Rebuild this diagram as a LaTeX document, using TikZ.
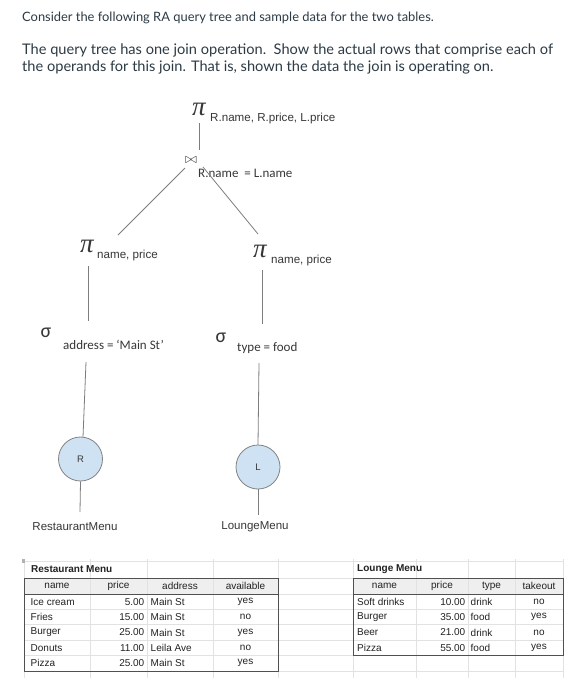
\documentclass[tikz,border=0pt]{standalone}
\usepackage{fontspec}
\setmainfont{Lato}
\newfontfamily\arialf{Liberation Sans}
\newfontfamily\calibf{Carlito}
\newfontfamily\serif{Liberation Serif}
\definecolor{txt}{RGB}{45,59,69}
\definecolor{treeline}{RGB}{125,125,125}
\definecolor{treetxt}{RGB}{55,55,55}
\definecolor{circfill}{RGB}{207,226,243}
\definecolor{circline}{RGB}{130,130,130}
\definecolor{gridc}{RGB}{226,226,226}
\definecolor{bordc}{RGB}{80,80,80}
\definecolor{hdrfill}{RGB}{239,239,239}
\definecolor{celltxt}{RGB}{34,34,34}
\begin{document}
\begin{tikzpicture}[x=1pt,y=-1pt,
  para/.style={anchor=base west,inner sep=0pt,text=txt,font=\fontsize{12.9}{15}\selectfont},
  parab/.style={anchor=base west,inner sep=0pt,text=txt,font=\fontsize{14.6}{17}\selectfont},
  tline/.style={draw=treeline,line width=0.8pt},
  pisym/.style={inner sep=0pt,text=treetxt,font=\serif\itshape\fontsize{27}{27}\selectfont},
  sigsym/.style={inner sep=0pt,text=treetxt,font=\calibf\fontsize{20}{20}\selectfont},
  subtxt/.style={anchor=west,inner sep=0pt,text=treetxt,font=\arialf\fontsize{11.6}{12}\selectfont},
  condtxt/.style={anchor=west,inner sep=0pt,text=treetxt,font=\calibf\fontsize{13}{14}\selectfont},
  relnode/.style={circle,minimum size=44pt,inner sep=0pt,fill=circfill,draw=circline,line width=0.8pt,text=treetxt,font=\arialf\fontsize{9.5}{10}\selectfont},
  reltxt/.style={inner sep=0pt,text=treetxt,font=\arialf\fontsize{11.5}{12}\selectfont},
  gridline/.style={draw=gridc,line width=0.8pt},
  bordline/.style={draw=bordc,line width=1pt},
  cell/.style={inner sep=0pt,text=celltxt,font=\arialf\fontsize{10}{11}\selectfont},
  cellL/.style={cell,anchor=west},
  cellR/.style={cell,anchor=east},
  cellC/.style={cell},
  ttl/.style={cell,anchor=west,font=\arialf\bfseries\fontsize{10}{11}\selectfont}
]
\useasboundingbox[fill=white] (0,0) rectangle (588,691);

% ---------- paragraph text ----------
\node[para] (p1) at (22,21.5) {Consider the following RA query tree and sample data for the two tables.};
\node[parab] (p2) at (22,54) {The query tree has one join operation.\ \ Show the actual rows that comprise each of};
\node[parab] (p3) at (22,71) {the operands for this join. That is, shown the data the join is operating on.};

% ---------- query tree ----------
\node[pisym] (pitop) at (199,109) {π};
\node[subtxt] (pitopsub) at (210,118) {R.name, R.price, L.price};
\coordinate (pitopb) at (199,123);
\coordinate (joint) at (199,150);
\draw[tline] (pitopb) -- (joint);

\node[inner sep=0pt,text=treetxt,font=\fontsize{14}{14}\selectfont] (join) at (191,160) {$\bowtie$};
\node[condtxt] (joincond) at (198,173) {R.name\ \ = L.name};

\coordinate (joinl) at (185,168);
\coordinate (pilt) at (118,235);
\draw[tline] (joinl) -- (pilt);
\coordinate (joinr) at (203,167);
\coordinate (pirt) at (258,234);
\draw[tline] (joinr) -- (pirt);

% left branch
\node[pisym] (pil) at (87,246) {π};
\node[subtxt] (pilsub) at (97,255) {name, price};
\coordinate (pilb) at (88,266);
\coordinate (siglt) at (88,321);
\draw[tline] (pilb) -- (siglt);
\node[sigsym] (sigl) at (46,333) {σ};
\node[condtxt] (siglcond) at (63,345) {address = ‘Main St’};
\coordinate (siglb) at (86,362);
\coordinate (rt) at (83,437);
\draw[tline] (siglb) -- (rt);
\node[relnode] (R) at (80.5,459) {R};
\coordinate (rb) at (80,512);
\draw[tline] (R.south) -- (rb);
\node[reltxt] (rname) at (75,527) {RestaurantMenu};

% right branch
\node[pisym] (pir) at (260,251) {π};
\node[subtxt] (pirsub) at (271,260) {name, price};
\coordinate (pirb) at (262,270);
\coordinate (sigrt) at (262,324);
\draw[tline] (pirb) -- (sigrt);
\node[sigsym] (sigr) at (221,338) {σ};
\node[condtxt] (sigrcond) at (237,348) {type = food};
\coordinate (sigrb) at (259,363);
\coordinate (lt) at (258,445);
\draw[tline] (sigrb) -- (lt);
\node[relnode] (L) at (258,467) {L};
\coordinate (lb) at (258,515);
\draw[tline] (L.south) -- (lb);
\node[reltxt] (lname) at (255,527) {LoungeMenu};

% ---------- spreadsheet grid ----------
\fill[hdrfill] (24,578) rectangle (278,594);
\fill[hdrfill] (353,578) rectangle (563,594);
\foreach \yy in {561,578,594,609.4,624.8,640.2,655.6,671}
  \draw[gridline] (24,\yy) -- (563,\yy);
\foreach \xx in {24,90,147,213,278,353,416,468,515,563}
  \draw[gridline] (\xx,559) -- (\xx,678);
\fill[gray!60] (22,559) rectangle (25,563);

% table borders
\draw[bordline] (24,578) rectangle (278,671);
\draw[bordline] (24,594) -- (278,594);
\draw[bordline] (353,578) rectangle (563,655.6);
\draw[bordline] (353,594) -- (563,594);

% ---------- Restaurant Menu table ----------
\node[ttl] (rtitle) at (31,569.5) {Restaurant Menu};
\node[cellC] (rh1) at (57,586) {name};
\node[cellC] (rh2) at (118.5,586) {price};
\node[cellC] (rh3) at (180,586) {address};
\node[cellC] (rh4) at (245.5,586) {available};
\foreach \n/\p/\a/\v [count=\i] in {Ice cream/5.00/Main St/yes,Fries/15.00/Main St/no,Burger/25.00/Main St/yes,Donuts/11.00/Leila Ave/no,Pizza/25.00/Main St/yes}{
  \node[cellL] (rn\i) at (30.5,{594+15.4*(\i-0.5)}) {\n};
  \node[cellR] (rp\i) at (144.5,{594+15.4*(\i-0.5)}) {\p};
  \node[cellL] (ra\i) at (150.5,{594+15.4*(\i-0.5)}) {\a};
  \node[cellC] (rv\i) at (245.5,{594+15.4*(\i-0.5)}) {\v};
}

% ---------- Lounge Menu table ----------
\node[ttl] (ltitle) at (357,569.5) {Lounge Menu};
\node[cellC] (lh1) at (384.5,586) {name};
\node[cellC] (lh2) at (442,586) {price};
\node[cellC] (lh3) at (491.5,586) {type};
\node[cellC] (lh4) at (539,586) {takeout};
\foreach \n/\p/\t/\k [count=\i] in {Soft drinks/10.00/drink/no,Burger/35.00/food/yes,Beer/21.00/drink/no,Pizza/55.00/food/yes}{
  \node[cellL] (ln\i) at (357,{594+15.4*(\i-0.5)}) {\n};
  \node[cellR] (lp\i) at (465.5,{594+15.4*(\i-0.5)}) {\p};
  \node[cellL] (lt\i) at (470.5,{594+15.4*(\i-0.5)}) {\t};
  \node[cellC] (lk\i) at (539,{594+15.4*(\i-0.5)}) {\k};
}
\end{tikzpicture}
\end{document}
